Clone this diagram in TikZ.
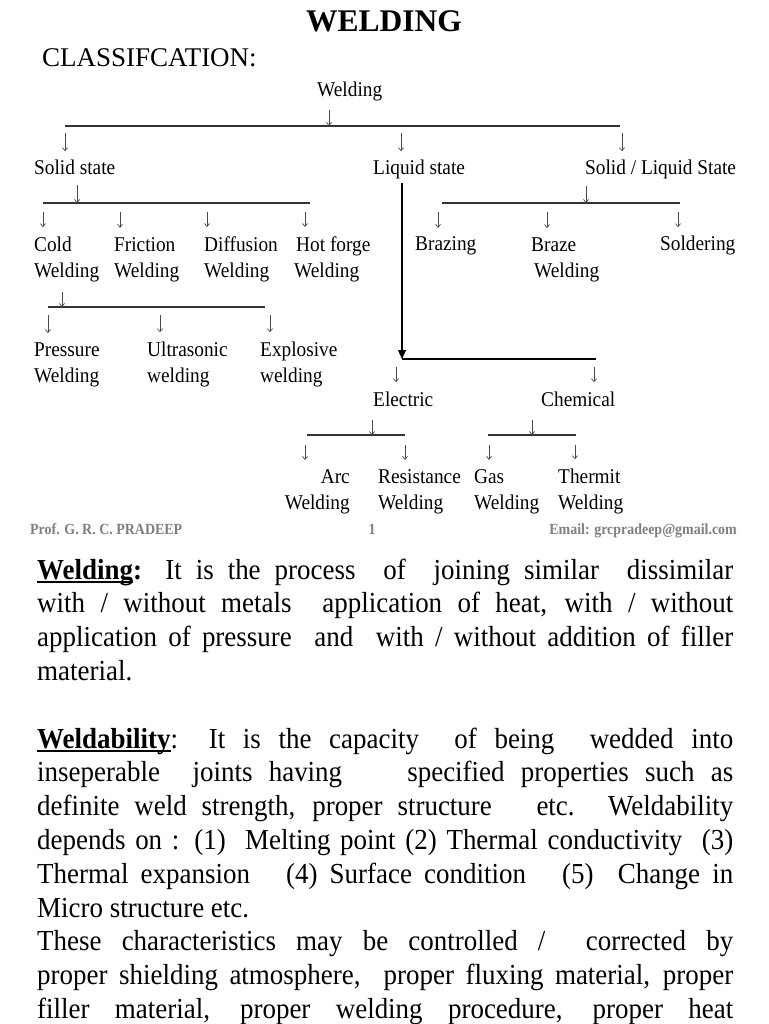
\documentclass[tikz,border=0pt]{standalone}
\usepackage{fontspec}
\setmainfont{Liberation Serif}
\newfontfamily\treef[FakeStretch=0.92]{Liberation Serif}
\newfontfamily\bodyf[FakeStretch=0.93]{Liberation Serif}
\newfontfamily\footf[FakeStretch=0.9]{Liberation Serif}
\usetikzlibrary{arrows.meta}
\definecolor{linec}{HTML}{333333}
\definecolor{arrowc}{HTML}{4A4A4A}
\definecolor{footc}{HTML}{7F7F7F}
\newcommand\ulword[1]{\setbox0\hbox{#1}\rlap{\rule[-4pt]{\wd0}{1.8pt}}\box0}
\tikzset{
  lbl/.style={inner sep=0pt, font=\treef\fontsize{21}{26}\selectfont, anchor=base west, align=left},
  bar/.style={draw=linec, line width=1.1pt},
  dn/.style={draw=arrowc, line width=0.7pt, -{Straight Barb[length=3pt,width=5pt]}},
  ch/.style={dn, shorten >=9pt},
  big/.style={draw=black, line width=1.1pt, -{Triangle[length=9pt,width=8pt]}},
  bodyline/.style={inner sep=0pt, anchor=base west, font=\bodyf\fontsize{29}{33.8}\selectfont},
  foot/.style={inner sep=0pt, text=footc, font=\footf\bfseries\fontsize{15.5}{18}\selectfont}
}
\begin{document}
\begin{tikzpicture}[x=1pt,y=-1pt]
\fill[white] (0,0) rectangle (768,1024);
\useasboundingbox (0,0) rectangle (768,1024);

% headings
\node[inner sep=0pt, anchor=base, font=\bfseries\fontsize{31.5}{36}\selectfont] (title) at (384,32) {WELDING};
\node[inner sep=0pt, anchor=base west, font=\fontsize{27}{32}\selectfont] (cls) at (42,67) {CLASSIFCATION:};

% root
\node[lbl] (root) at (317,97) {Welding};
\coordinate (b0l) at (65,126); \coordinate (b0r) at (620,126); \coordinate (b0m) at (329,126);
\draw[bar] (b0l) -- (b0r);
\draw[dn, shorten <=8pt] (root.south -| b0m) -- (b0m);

% level 1
\node[lbl] (solid) at (34,175) {Solid state};
\node[lbl] (liquid) at (373,175) {Liquid state};
\node[lbl] (sl) at (585,175) {Solid / Liquid State};
\coordinate (aS) at (65,133); \coordinate (aL) at (401,133); \coordinate (aSL) at (622,133);
\draw[ch] (aS) -- (aS |- solid.north);
\draw[ch] (aL) -- (aL |- liquid.north);
\draw[ch] (aSL) -- (aSL |- sl.north);

% solid state branch
\coordinate (b1l) at (43,203); \coordinate (b1r) at (310,203); \coordinate (b1m) at (77,203);
\draw[bar] (b1l) -- (b1r);
\draw[dn, shorten <=10pt] (solid.south -| b1m) -- (b1m);
\node[lbl] (cold) at (34,277) {Cold\\Welding};
\node[lbl] (fric) at (114,277) {Friction\\Welding};
\node[lbl] (diff) at (204,277) {Diffusion\\Welding};
\node[lbl] (hot) at (296,277) {Hot forge\\\hspace{-2pt}Welding};
\coordinate (a11) at (43,212); \coordinate (a12) at (120,212); \coordinate (a13) at (207,212); \coordinate (a14) at (305,212);
\draw[ch] (a11) -- (a11 |- cold.north);
\draw[ch] (a12) -- (a12 |- fric.north);
\draw[ch] (a13) -- (a13 |- diff.north);
\draw[ch] (a14) -- (a14 |- hot.north);

% cold welding branch
\coordinate (b2l) at (48,307); \coordinate (b2r) at (265,307); \coordinate (b2m) at (62,307);
\draw[bar] (b2l) -- (b2r);
\draw[dn, shorten <=10pt] (cold.south -| b2m) -- (b2m);
\node[lbl] (press) at (34,382) {Pressure\\Welding};
\node[lbl] (ultra) at (147,382) {Ultrasonic\\welding};
\node[lbl] (expl) at (260,382) {Explosive\\welding};
\coordinate (a21) at (48,315); \coordinate (a22) at (160,315); \coordinate (a23) at (270,315);
\draw[ch] (a21) -- (a21 |- press.north);
\draw[ch] (a22) -- (a22 |- ultra.north);
\draw[ch] (a23) -- (a23 |- expl.north);

% solid / liquid branch
\coordinate (b3l) at (442,203); \coordinate (b3r) at (680,203); \coordinate (b3m) at (586,203);
\draw[bar] (b3l) -- (b3r);
\draw[dn, shorten <=6pt] (sl.south -| b3m) -- (b3m);
\node[lbl] (braz) at (415,251) {Brazing};
\node[lbl] (brazw) at (531,277) {Braze\\\hspace{3pt}Welding};
\node[lbl] (sold) at (660,251) {Soldering};
\coordinate (a31) at (438,212); \coordinate (a32) at (547,212); \coordinate (a33) at (678,212);
\draw[ch] (a31) -- (a31 |- braz.north);
\draw[ch] (a32) -- (a32 |- brazw.north);
\draw[ch] (a33) -- (a33 |- sold.north);

% liquid state branch
\coordinate (eb) at (402,359); \coordinate (ebr) at (596,359);
\draw[big, shorten <=3pt] (liquid.south -| eb) -- (eb);
\draw[bar, draw=black] (eb) -- (ebr);
\node[lbl] (elec) at (373,406) {Electric};
\node[lbl] (chem) at (541,406) {Chemical};
\coordinate (a41) at (396,367); \coordinate (a42) at (594,367);
\draw[ch] (a41) -- (a41 |- elec.north);
\draw[ch] (a42) -- (a42 |- chem.north);

% electric branch
\coordinate (b4l) at (307,435); \coordinate (b4r) at (405,435); \coordinate (b4m) at (372,435);
\draw[bar] (b4l) -- (b4r);
\draw[dn, shorten <=14pt] (elec.south -| b4m) -- (b4m);
% chemical branch
\coordinate (b5l) at (488,435); \coordinate (b5r) at (576,435); \coordinate (b5m) at (532,435);
\draw[bar] (b5l) -- (b5r);
\draw[dn, shorten <=14pt] (chem.south -| b5m) -- (b5m);

\node[lbl, anchor=base east, align=right] (arc) at (350,509) {Arc\\Welding};
\node[lbl] (res) at (378,509) {Resistance\\Welding};
\node[lbl] (gas) at (474,509) {Gas\\Welding};
\node[lbl] (therm) at (558,509) {Thermit\\Welding};
\coordinate (a51) at (305,445); \coordinate (a52) at (405,445); \coordinate (a53) at (489,445); \coordinate (a54) at (575,445);
\draw[ch] (a51) -- (a51 |- arc.north);
\draw[ch] (a52) -- (a52 |- res.north);
\draw[ch] (a53) -- (a53 |- gas.north);
\draw[ch] (a54) -- (a54 |- therm.north);

% footer
\node[foot, anchor=base west] (prof) at (30,534) {Prof. G. R. C. PRADEEP};
\node[foot, anchor=base] (pg) at (372,534) {1};
\node[foot, anchor=base east] (mail) at (737,534) {Email: grcpradeep@gmail.com};

% body text
\node[bodyline] (p1a) at (37,579) {\makebox[696pt][s]{\ulword{\bfseries Welding}\textbf{:} It is the process~~of~~joining similar~~dissimilar}};
\node[bodyline] (p1b) at (37,612.8) {\makebox[696pt][s]{with / without metals~~application of heat, with / without}};
\node[bodyline] (p1c) at (37,646.6) {\makebox[696pt][s]{application of pressure~~and~~with / without addition of filler}};
\node[bodyline] (p1d) at (37,680.4) {material.};

\node[bodyline] (p2a) at (37,748) {\makebox[696pt][s]{\ulword{\bfseries Weldability}: It is the capacity~~of being~~wedded into}};
\node[bodyline] (p2b) at (37,781.8) {\makebox[696pt][s]{inseperable~~joints having~~~~specified properties such as}};
\node[bodyline] (p2c) at (37,815.6) {\makebox[696pt][s]{definite weld strength, proper structure~~~etc. Weldability}};
\node[bodyline] (p2d) at (37,849.4) {\makebox[696pt][s]{depends on : (1)~~Melting point (2) Thermal conductivity~~(3)}};
\node[bodyline] (p2e) at (37,883.2) {\makebox[696pt][s]{Thermal expansion~~~(4) Surface condition~~~(5)~~Change in}};
\node[bodyline] (p2f) at (37,917) {Micro structure etc.};
\node[bodyline] (p3a) at (37,950.8) {\makebox[696pt][s]{These characteristics may be controlled /~~corrected by}};
\node[bodyline] (p3b) at (37,984.6) {\makebox[696pt][s]{proper shielding atmosphere,~~proper fluxing material, proper}};
\node[bodyline] (p3c) at (37,1018.4) {\makebox[696pt][s]{filler material, proper welding procedure, proper heat}};
\end{tikzpicture}
\end{document}
